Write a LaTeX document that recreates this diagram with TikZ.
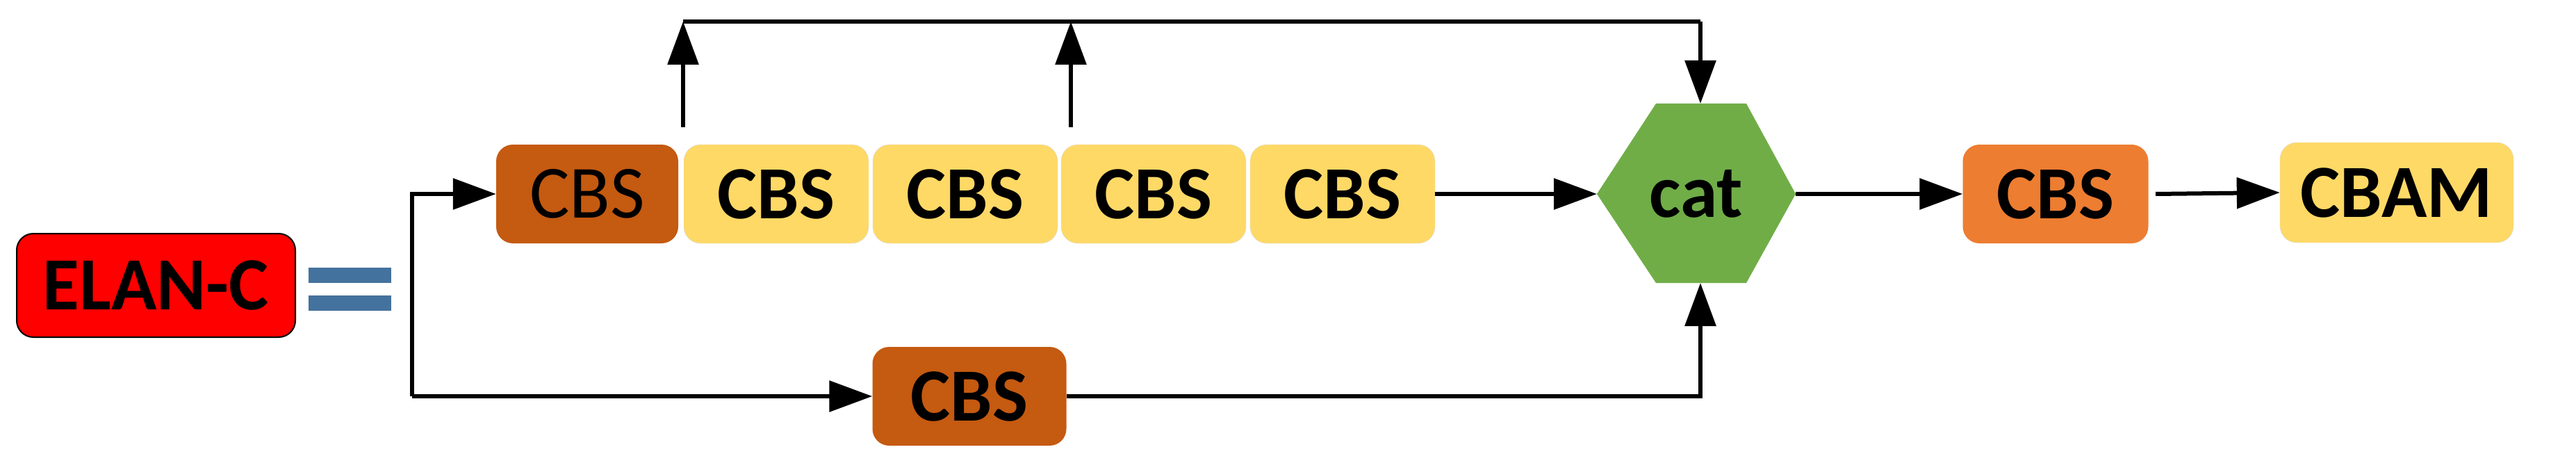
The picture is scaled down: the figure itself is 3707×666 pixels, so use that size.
\documentclass[tikz,border=0pt]{standalone}
\usepackage{fontspec}
\setmainfont{Carlito}
\usetikzlibrary{arrows.meta}
\definecolor{cbsbrown}{HTML}{C55A11}
\definecolor{cbsyellow}{HTML}{FFD966}
\definecolor{cbsorange}{HTML}{ED7D31}
\definecolor{catgreen}{HTML}{70AD47}
\definecolor{eqblue}{HTML}{44729E}
\begin{document}
\begin{tikzpicture}[x=1pt,y=-1pt,
  box/.style={rounded corners=24pt,inner sep=0pt,font=\fontsize{108}{108}\selectfont\bfseries},
  conn/.style={line width=6pt,-{Triangle[length=62pt,width=44pt]}},
  line/.style={line width=6pt}]
\useasboundingbox (0,0) rectangle (3707,666);
\node[box,draw=black,line width=2pt,fill=red,minimum width=401pt,minimum height=149pt] (elan) at (224.5,410.5) {ELAN-C};
\fill[eqblue] (444,385) rectangle (563,407);
\fill[eqblue] (444,425) rectangle (563,447);
\node[box,fill=cbsbrown,minimum width=262pt,minimum height=142pt,font=\fontsize{108}{108}\selectfont] (c1) at (845,279) {CBS};
\node[box,fill=cbsyellow,draw=black!15,minimum width=266pt,minimum height=142pt] (c2) at (1117,279) {CBS};
\node[box,fill=cbsyellow,draw=black!15,minimum width=266pt,minimum height=142pt] (c3) at (1389,279) {CBS};
\node[box,fill=cbsyellow,draw=black!15,minimum width=266pt,minimum height=142pt] (c4) at (1660,279) {CBS};
\node[box,fill=cbsyellow,draw=black!15,minimum width=266pt,minimum height=142pt] (c5) at (1932,279) {CBS};
\node[box,fill=cbsbrown,minimum width=279pt,minimum height=142pt] (cb) at (1395,570) {CBS};
\fill[catgreen] (2298,279) -- (2383,149) -- (2513,149) -- (2584,279) -- (2513,407) -- (2383,407) -- cycle;
\node[inner sep=0pt,font=\fontsize{108}{108}\selectfont\bfseries] (cat) at (2441,279) {cat};
\coordinate (catT) at (2447,149);
\coordinate (catB) at (2447,407);
\coordinate (catL) at (2298,279);
\coordinate (catR) at (2584,279);
\node[box,fill=cbsorange,minimum width=267pt,minimum height=142pt] (c6) at (2958,279) {CBS};
\node[box,fill=cbsyellow,draw=black!15,minimum width=336pt,minimum height=144pt] (cbam) at (3449,277) {CBAM};
\coordinate (s) at (593,570);
\draw[conn] (s) |- (c1.west);
\draw[conn] (s) -- (cb.west);
\draw[conn] (983,183) -- (983,31);
\draw[conn] (1541,183) -- (1541,31);
\draw[line] (983,31) -- (2447,31);
\draw[conn] (2447,31) -- (catT);
\draw[conn] (c5.east) -- (catL);
\draw[conn] (cb.east) -| (catB);
\draw[conn] (catR) -- (c6.west);
\draw[conn] (3102,279) -- (cbam.west);
\end{tikzpicture}
\end{document}
